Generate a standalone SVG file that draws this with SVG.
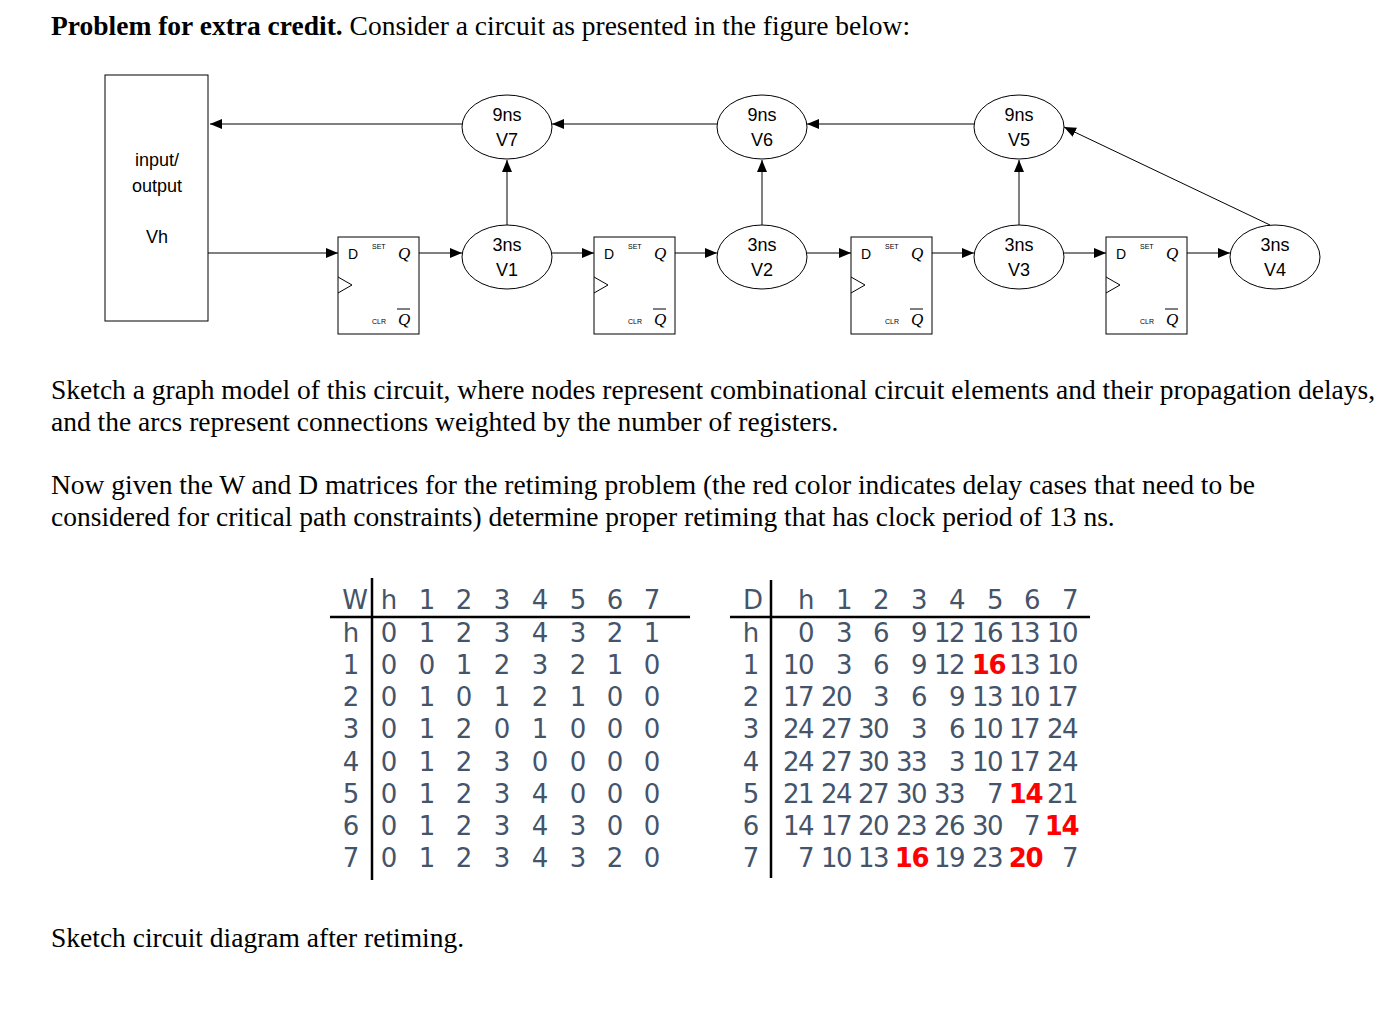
<svg xmlns="http://www.w3.org/2000/svg" width="1393" height="1033" viewBox="0 0 1393 1033">
<style>
.p{font-family:"Liberation Serif",serif;font-size:27.5px;fill:#000}
.c{font-family:"Liberation Sans",sans-serif;font-size:18px;fill:#000;text-anchor:middle}
.s{font-family:"Liberation Sans",sans-serif;font-size:7px;fill:#000}
.q{font-family:"Liberation Serif",serif;font-style:italic;font-size:17px;fill:#000}
.ln{stroke:#000;stroke-width:1;fill:none}
.t{font-family:"DejaVu Sans",sans-serif;font-size:26px;fill:#44546a;text-anchor:middle}
.r{font-family:"DejaVu Sans",sans-serif;font-size:26px;fill:#44546a;text-anchor:end;letter-spacing:-1.5px}
.red{fill:#ff0000;font-weight:bold}
.tl{stroke:#000;stroke-width:2.5}
</style>
<defs>
<marker id="a" markerWidth="12" markerHeight="10" refX="12" refY="5" orient="auto" markerUnits="userSpaceOnUse"><path d="M0,0L12,5L0,10z" fill="#000"/></marker>
<g id="ff">
<rect x="0" y="0" width="81" height="97" fill="#fff" stroke="#000"/>
<text x="10" y="22" style="font-family:'Liberation Sans',sans-serif;font-size:14px">D</text>
<text x="34" y="12" class="s">SET</text>
<text x="60" y="22" class="q">Q</text>
<path d="M0,40L14,48L0,56" class="ln"/>
<text x="34" y="87" class="s">CLR</text>
<text x="60" y="88" class="q">Q</text>
<line x1="59" y1="72" x2="72" y2="72" stroke="#000"/>
</g>
</defs>
<text x="51" y="35" class="p"><tspan font-weight="bold">Problem for extra credit.</tspan> Consider a circuit as presented in the figure below:</text>

<g id="io"><rect x="105" y="75" width="103" height="246" fill="#fff" stroke="#000"/>
<text x="157" y="166" class="c">input/</text><text x="157" y="192" class="c">output</text><text x="157" y="243" class="c">Vh</text></g>
<g id="ff1"><use href="#ff" x="338" y="237"/></g>
<g id="ff2"><use href="#ff" x="594" y="237"/></g>
<g id="ff3"><use href="#ff" x="851" y="237"/></g>
<g id="ff4"><use href="#ff" x="1106" y="237"/></g>
<g id="V1"><ellipse cx="507" cy="257" rx="45" ry="32" fill="#fff" stroke="#000"/><text x="507" y="251" class="c">3ns</text><text x="507" y="276" class="c">V1</text></g>
<g id="V2"><ellipse cx="762" cy="257" rx="45" ry="32" fill="#fff" stroke="#000"/><text x="762" y="251" class="c">3ns</text><text x="762" y="276" class="c">V2</text></g>
<g id="V3"><ellipse cx="1019" cy="257" rx="45" ry="32" fill="#fff" stroke="#000"/><text x="1019" y="251" class="c">3ns</text><text x="1019" y="276" class="c">V3</text></g>
<g id="V4"><ellipse cx="1275" cy="257" rx="45" ry="32" fill="#fff" stroke="#000"/><text x="1275" y="251" class="c">3ns</text><text x="1275" y="276" class="c">V4</text></g>
<g id="V7"><ellipse cx="507" cy="127" rx="45" ry="32" fill="#fff" stroke="#000"/><text x="507" y="121" class="c">9ns</text><text x="507" y="146" class="c">V7</text></g>
<g id="V6"><ellipse cx="762" cy="127" rx="45" ry="32" fill="#fff" stroke="#000"/><text x="762" y="121" class="c">9ns</text><text x="762" y="146" class="c">V6</text></g>
<g id="V5"><ellipse cx="1019" cy="127" rx="45" ry="32" fill="#fff" stroke="#000"/><text x="1019" y="121" class="c">9ns</text><text x="1019" y="146" class="c">V5</text></g>
<g id="wires" class="ln" marker-end="url(#a)">
<line x1="208" y1="253" x2="338" y2="253"/>
<line x1="419" y1="253" x2="462" y2="253"/>
<line x1="552" y1="253" x2="594" y2="253"/>
<line x1="675" y1="253" x2="717" y2="253"/>
<line x1="807" y1="253" x2="851" y2="253"/>
<line x1="932" y1="253" x2="974" y2="253"/>
<line x1="1064" y1="253" x2="1106" y2="253"/>
<line x1="1187" y1="253" x2="1230" y2="253"/>
<line x1="507" y1="225" x2="507" y2="160"/>
<line x1="762" y1="225" x2="762" y2="160"/>
<line x1="1019" y1="225" x2="1019" y2="160"/>
<line x1="974" y1="124" x2="807" y2="124"/>
<line x1="717" y1="124" x2="552" y2="124"/>
<line x1="462" y1="124" x2="210" y2="124"/>
<line x1="1270" y1="225" x2="1064" y2="127"/>
</g>

<text x="51" y="399" class="p">Sketch a graph model of this circuit, where nodes represent combinational circuit elements and their propagation delays,</text>
<text x="51" y="431" class="p">and the arcs represent connections weighted by the number of registers.</text>
<text x="51" y="494" class="p">Now given the W and D matrices for the retiming problem (the red color indicates delay cases that need to be</text>
<text x="51" y="526" class="p">considered for critical path constraints) determine proper retiming that has clock period of 13 ns.</text>
<text x="51" y="947" class="p">Sketch circuit diagram after retiming.</text>

<g id="Wtable">
<line x1="372" y1="578" x2="372" y2="880" class="tl"/>
<line x1="330" y1="617" x2="690" y2="617" class="tl"/>
<g class="t">
<text x="355" y="609">W</text><text x="389" y="609">h</text><text x="427" y="609">1</text><text x="464" y="609">2</text><text x="502" y="609">3</text><text x="540" y="609">4</text><text x="578" y="609">5</text><text x="615" y="609">6</text><text x="652" y="609">7</text>
<text x="351" y="642">h</text><text x="351" y="674">1</text><text x="351" y="706">2</text><text x="351" y="738">3</text><text x="351" y="771">4</text><text x="351" y="803">5</text><text x="351" y="835">6</text><text x="351" y="867">7</text>
<text y="642"><tspan x="389">0</tspan><tspan x="427">1</tspan><tspan x="464">2</tspan><tspan x="502">3</tspan><tspan x="540">4</tspan><tspan x="578">3</tspan><tspan x="615">2</tspan><tspan x="652">1</tspan></text>
<text y="674"><tspan x="389">0</tspan><tspan x="427">0</tspan><tspan x="464">1</tspan><tspan x="502">2</tspan><tspan x="540">3</tspan><tspan x="578">2</tspan><tspan x="615">1</tspan><tspan x="652">0</tspan></text>
<text y="706"><tspan x="389">0</tspan><tspan x="427">1</tspan><tspan x="464">0</tspan><tspan x="502">1</tspan><tspan x="540">2</tspan><tspan x="578">1</tspan><tspan x="615">0</tspan><tspan x="652">0</tspan></text>
<text y="738"><tspan x="389">0</tspan><tspan x="427">1</tspan><tspan x="464">2</tspan><tspan x="502">0</tspan><tspan x="540">1</tspan><tspan x="578">0</tspan><tspan x="615">0</tspan><tspan x="652">0</tspan></text>
<text y="771"><tspan x="389">0</tspan><tspan x="427">1</tspan><tspan x="464">2</tspan><tspan x="502">3</tspan><tspan x="540">0</tspan><tspan x="578">0</tspan><tspan x="615">0</tspan><tspan x="652">0</tspan></text>
<text y="803"><tspan x="389">0</tspan><tspan x="427">1</tspan><tspan x="464">2</tspan><tspan x="502">3</tspan><tspan x="540">4</tspan><tspan x="578">0</tspan><tspan x="615">0</tspan><tspan x="652">0</tspan></text>
<text y="835"><tspan x="389">0</tspan><tspan x="427">1</tspan><tspan x="464">2</tspan><tspan x="502">3</tspan><tspan x="540">4</tspan><tspan x="578">3</tspan><tspan x="615">0</tspan><tspan x="652">0</tspan></text>
<text y="867"><tspan x="389">0</tspan><tspan x="427">1</tspan><tspan x="464">2</tspan><tspan x="502">3</tspan><tspan x="540">4</tspan><tspan x="578">3</tspan><tspan x="615">2</tspan><tspan x="652">0</tspan></text>
</g></g>

<g id="Dtable">
<line x1="771" y1="580" x2="771" y2="878" class="tl"/>
<line x1="730" y1="617" x2="1090" y2="617" class="tl"/>
<g class="t">
<text x="753" y="609">D</text>
<text x="751" y="642">h</text><text x="751" y="674">1</text><text x="751" y="706">2</text><text x="751" y="738">3</text><text x="751" y="771">4</text><text x="751" y="803">5</text><text x="751" y="835">6</text><text x="751" y="867">7</text>
</g>
<g class="r">
<text y="609"><tspan x="813">h</tspan><tspan x="851">1</tspan><tspan x="888">2</tspan><tspan x="926">3</tspan><tspan x="964">4</tspan><tspan x="1002">5</tspan><tspan x="1039">6</tspan><tspan x="1077">7</tspan></text>
<text x="813" y="642">0</text><text x="851" y="642">3</text><text x="888" y="642">6</text><text x="926" y="642">9</text><text x="964" y="642">12</text><text x="1002" y="642">16</text><text x="1039" y="642">13</text><text x="1077" y="642">10</text>
<text x="813" y="674">10</text><text x="851" y="674">3</text><text x="888" y="674">6</text><text x="926" y="674">9</text><text x="964" y="674">12</text><text x="1005" y="674" class="red">16</text><text x="1039" y="674">13</text><text x="1077" y="674">10</text>
<text x="813" y="706">17</text><text x="851" y="706">20</text><text x="888" y="706">3</text><text x="926" y="706">6</text><text x="964" y="706">9</text><text x="1002" y="706">13</text><text x="1039" y="706">10</text><text x="1077" y="706">17</text>
<text x="813" y="738">24</text><text x="851" y="738">27</text><text x="888" y="738">30</text><text x="926" y="738">3</text><text x="964" y="738">6</text><text x="1002" y="738">10</text><text x="1039" y="738">17</text><text x="1077" y="738">24</text>
<text x="813" y="771">24</text><text x="851" y="771">27</text><text x="888" y="771">30</text><text x="926" y="771">33</text><text x="964" y="771">3</text><text x="1002" y="771">10</text><text x="1039" y="771">17</text><text x="1077" y="771">24</text>
<text x="813" y="803">21</text><text x="851" y="803">24</text><text x="888" y="803">27</text><text x="926" y="803">30</text><text x="964" y="803">33</text><text x="1002" y="803">7</text><text x="1042" y="803" class="red">14</text><text x="1077" y="803">21</text>
<text x="813" y="835">14</text><text x="851" y="835">17</text><text x="888" y="835">20</text><text x="926" y="835">23</text><text x="964" y="835">26</text><text x="1002" y="835">30</text><text x="1039" y="835">7</text><text x="1078" y="835" class="red">14</text>
<text x="813" y="867">7</text><text x="851" y="867">10</text><text x="888" y="867">13</text><text x="928" y="867" class="red">16</text><text x="964" y="867">19</text><text x="1002" y="867">23</text><text x="1042" y="867" class="red">20</text><text x="1077" y="867">7</text>
</g></g>
</svg>
